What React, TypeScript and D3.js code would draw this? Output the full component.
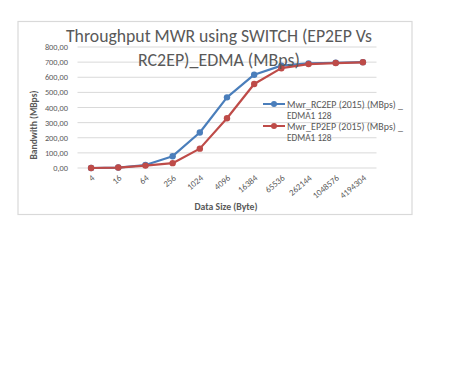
import React from "react";
import * as d3 from "d3";

const categories = ["4", "16", "64", "256", "1024", "4096", "16384", "65536", "262144", "1048576", "4194304"];
const rc2epValues = [0, 3, 20, 78, 235, 467, 617, 677, 692, 696, 700];
const ep2epValues = [0, 3, 16, 32, 128, 329, 555, 660, 687, 694, 699];
const yTicks = [0, 100, 200, 300, 400, 500, 600, 700, 800];
const seriesNames = ["Mwr_RC2EP (2015) (MBps) _", "Mwr_EP2EP (2015) (MBps) _"];
const seriesColors = ["#4a7ebb", "#be4b48"];

const W = 474, H = 379;
const plotLeft = 77.5, plotRight = 376.5, plotTop = 47, plotBottom = 168;
const font = "Carlito, Lato, 'Liberation Sans', sans-serif";
const textColor = "#595959";

export default function App() {
  const x = d3.scaleBand<string>().domain(categories).range([plotLeft, plotRight]);
  const y = d3.scaleLinear().domain([0, 800]).range([plotBottom, plotTop]);
  const cx = (c: string) => (x(c) as number) + x.bandwidth() / 2;
  const line = d3.line<number>().x((_, i) => cx(categories[i])).y(d => y(d));
  const series = [rc2epValues, ep2epValues];
  const fmt = (v: number) => v.toFixed(2).replace(".", ",");

  return (
    <svg width={W} height={H} style={{ position: "absolute", left: 0, top: 0 }}>
      <rect x={0} y={0} width={W} height={H} fill="#fff" />
      <rect x={18} y={21.5} width={394} height={193} fill="#fff" stroke="#d9d9d9" strokeWidth={1.2} />
      {yTicks.map(t => (
        <g key={t}>
          <line x1={plotLeft} x2={plotRight} y1={y(t)} y2={y(t)} stroke="#d9d9d9" strokeWidth={1} />
          <text x={68} y={y(t) + 3} textAnchor="end" fontSize={8.3} fill={textColor} fontFamily={font}>{fmt(t)}</text>
        </g>
      ))}
      {categories.map(c => (
        <text key={c} transform={`translate(${cx(c) + 4},${179}) rotate(-40)`} textAnchor="end" fontSize={8.8} fill={textColor} fontFamily={font}>{c}</text>
      ))}
      {series.map((vals, si) => (
        <g key={si}>
          <path d={line(vals) || ""} fill="none" stroke={seriesColors[si]} strokeWidth={2.2} strokeLinejoin="round" />
          {vals.map((v, i) => (
            <circle key={i} cx={cx(categories[i])} cy={y(v)} r={3.2} fill={seriesColors[si]} />
          ))}
        </g>
      ))}
      <text x={219} y={42} textAnchor="middle" fontSize={17.5} fill={textColor} fontFamily={font} textLength={306} lengthAdjust="spacingAndGlyphs">Throughput MWR using SWITCH (EP2EP Vs</text>
      <text x={219} y={66} textAnchor="middle" fontSize={17.5} fill={textColor} fontFamily={font} textLength={162} lengthAdjust="spacingAndGlyphs">RC2EP)_EDMA (MBps)</text>
      <text x={226} y={210} textAnchor="middle" fontSize={9.3} fontWeight="bold" fill={textColor} fontFamily={font} textLength={63} lengthAdjust="spacingAndGlyphs">Data Size  (Byte)</text>
      <text transform={`translate(37,125) rotate(-90)`} textAnchor="middle" fontSize={9.3} fontWeight="bold" fill={textColor} fontFamily={font} textLength={69} lengthAdjust="spacingAndGlyphs">Bandwith (MBps)</text>
      {seriesNames.map((n, i) => {
        const ly = 104 + i * 22;
        return (
          <g key={n}>
            <line x1={263} x2={285} y1={ly} y2={ly} stroke={seriesColors[i]} strokeWidth={2} />
            <circle cx={274} cy={ly} r={3} fill={seriesColors[i]} />
            <text x={287} y={ly + 3.5} fontSize={9.3} fill={textColor} fontFamily={font} textLength={116} lengthAdjust="spacingAndGlyphs">{n}</text>
            <text x={287} y={ly + 15} fontSize={9.3} fill={textColor} fontFamily={font}>EDMA1 128</text>
          </g>
        );
      })}
    </svg>
  );
}
